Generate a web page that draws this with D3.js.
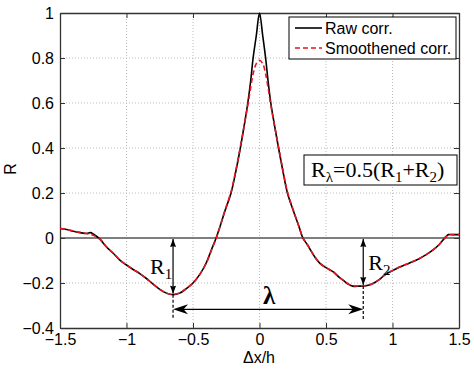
<!DOCTYPE html>
<html><head><meta charset="utf-8">
<script src="https://cdn.jsdelivr.net/npm/d3@7"></script>
<style>body{margin:0;background:#fff}svg{display:block}</style>
</head><body><svg id="c" width="474" height="369"></svg>
<script>
// ---- data ----
const xs      = [-1.5,-1.45,-1.4,-1.35,-1.3,-1.27,-1.25,-1.2,-1.15,-1.1,-1.05,-1.0,-0.95,-0.9,-0.85,-0.8,-0.75,-0.7,-0.65,-0.6,-0.55,-0.5,-0.45,-0.4,-0.36,-0.326,-0.3,-0.26,-0.214,-0.18,-0.144,-0.115,-0.088,-0.066,-0.048,-0.024,0,0.024,0.046,0.064,0.085,0.113,0.143,0.175,0.21,0.255,0.3,0.326,0.36,0.38,0.42,0.455,0.5,0.555,0.6,0.63,0.67,0.7,0.75,0.8,0.85,0.9,0.95,1.0,1.05,1.1,1.15,1.2,1.25,1.3,1.35,1.4,1.42,1.45,1.5];
const rawCorr = [0.042,0.038,0.03,0.024,0.02,0.024,0.018,-0.005,-0.04,-0.068,-0.098,-0.12,-0.14,-0.158,-0.18,-0.205,-0.228,-0.245,-0.252,-0.245,-0.225,-0.2,-0.163,-0.11,-0.05,0.0,0.045,0.12,0.2,0.29,0.4,0.5,0.6,0.7,0.8,0.9,1.0,0.9,0.8,0.7,0.6,0.5,0.4,0.3,0.2,0.12,0.045,0.0,-0.03,-0.05,-0.088,-0.113,-0.132,-0.151,-0.175,-0.188,-0.206,-0.214,-0.214,-0.212,-0.203,-0.185,-0.16,-0.145,-0.13,-0.118,-0.106,-0.092,-0.075,-0.055,-0.03,0.005,0.015,0.015,0.015];
const smoothCorr = [0.042,0.038,0.031,0.025,0.02,0.016,0.012,-0.005,-0.04,-0.068,-0.097,-0.12,-0.14,-0.158,-0.18,-0.205,-0.228,-0.245,-0.25,-0.244,-0.225,-0.2,-0.163,-0.112,-0.052,-0.002,0.045,0.122,0.205,0.295,0.405,0.5,0.59,0.67,0.73,0.775,0.79,0.775,0.73,0.67,0.59,0.5,0.405,0.305,0.205,0.122,0.045,0.0,-0.03,-0.05,-0.088,-0.113,-0.132,-0.151,-0.175,-0.188,-0.205,-0.212,-0.213,-0.211,-0.203,-0.185,-0.161,-0.145,-0.13,-0.118,-0.106,-0.092,-0.075,-0.055,-0.03,0.005,0.013,0.015,0.015];
const xTicks = [-1.5,-1,-0.5,0,0.5,1,1.5];
const xTickLabels = ["\u22121.5","\u22121","\u22120.5","0","0.5","1","1.5"];
const yTicks = [-0.4,-0.2,0,0.2,0.4,0.6,0.8,1];
const yTickLabels = ["\u22120.4","\u22120.2","0","0.2","0.4","0.6","0.8","1"];
const seriesNames = ["Raw corr.","Smoothened corr."];
const minima = [{x:-0.65,y:-0.252,label:"1"},{x:0.78,y:-0.213,label:"2"}];
const lambdaY = -0.317;
const dashEndY = -0.36;

// ---- layout ----
const svg = d3.select("#c");
const L=60,R=459,T=13,B=328;
const x = d3.scaleLinear().domain([-1.5,1.5]).range([L,R]);
const y = d3.scaleLinear().domain([-0.4,1]).range([B,T]);
const axisCol="#333";

// grid
const g = svg.append("g");
g.selectAll(".gx").data(xTicks.slice(1,-1)).join("line")
  .attr("x1",d=>x(d)).attr("x2",d=>x(d)).attr("y1",T).attr("y2",B)
  .attr("stroke","#bbb").attr("stroke-width",1).attr("stroke-dasharray","1,2");
g.selectAll(".gy").data(yTicks.slice(1,-1).filter(d=>d!==0)).join("line")
  .attr("y1",d=>y(d)).attr("y2",d=>y(d)).attr("x1",L).attr("x2",R)
  .attr("stroke","#bbb").attr("stroke-width",1).attr("stroke-dasharray","1,2");

// zero line
svg.append("line").attr("x1",L).attr("x2",R).attr("y1",y(0)).attr("y2",y(0))
  .attr("stroke","#555").attr("stroke-width",1.5);

// axes
const fs="'Liberation Sans',Arial,sans-serif";
const ax = d3.axisBottom(x).tickValues(xTicks).tickFormat((d,i)=>xTickLabels[i]).tickSizeInner(-5).tickSizeOuter(0).tickPadding(6);
const ay = d3.axisLeft(y).tickValues(yTicks).tickFormat((d,i)=>yTickLabels[i]).tickSizeInner(-5).tickSizeOuter(0).tickPadding(9);
const gx = svg.append("g").attr("transform",`translate(0,${B})`).call(ax);
const gy = svg.append("g").attr("transform",`translate(${L},0)`).call(ay);
const gxt = svg.append("g").attr("transform",`translate(0,${T})`).call(d3.axisTop(x).tickValues(xTicks).tickFormat("").tickSizeInner(-5).tickSizeOuter(0));
const gyr = svg.append("g").attr("transform",`translate(${R},0)`).call(d3.axisRight(y).tickValues(yTicks).tickFormat("").tickSizeInner(-5).tickSizeOuter(0));
[gx,gy,gxt,gyr].forEach(a=>{
  a.select(".domain").attr("stroke",axisCol).attr("stroke-width",1.3);
  a.selectAll(".tick line").attr("stroke",axisCol);
  a.selectAll(".tick text").attr("font-family",fs).attr("font-size",16).attr("fill","#000");
});
gy.selectAll(".tick text").attr("dx",3);

// curves
const line = d3.line().x((d,i)=>x(xs[i])).y(d=>y(d)).curve(d3.curveCatmullRom);
svg.append("path").attr("d",line(rawCorr)).attr("fill","none").attr("stroke","#000").attr("stroke-width",1.6);
svg.append("path").attr("d",line(smoothCorr)).attr("fill","none").attr("stroke","#e8141e").attr("stroke-width",1.6).attr("stroke-dasharray","5,3");

// axis labels
svg.append("text").attr("x",259).attr("y",363).attr("text-anchor","middle")
  .attr("font-family",fs).attr("font-size",16).text("\u0394x/h");
svg.append("text").attr("transform","translate(16,169) rotate(-90)").attr("text-anchor","middle")
  .attr("font-family",fs).attr("font-size",16).text("R");

// annotations
const serif="'Liberation Serif','Times New Roman',serif";
function head(px,py,dx,dy,len,hw,notch){
  const nx=-dy, ny=dx;
  const bx=px-dx*len, by=py-dy*len;
  const mx=px-dx*len*(1-notch), my=py-dy*len*(1-notch);
  return `M${px},${py}L${bx+nx*hw},${by+ny*hw}L${mx},${my}L${bx-nx*hw},${by-ny*hw}Z`;
}
minima.forEach((m,i)=>{
  const X=x(m.x), y0=y(0), y1=y(m.y);
  svg.append("line").attr("x1",X).attr("x2",X).attr("y1",y0+1).attr("y2",y1-1).attr("stroke","#000").attr("stroke-width",1.2);
  svg.append("path").attr("d",head(X,y0+1,0,-1,8,3,0.1)+head(X,y1-1,0,1,8,3,0.1)).attr("fill","#000");
  svg.append("line").attr("x1",X).attr("x2",X).attr("y1",y1).attr("y2",y(dashEndY))
    .attr("stroke","#000").attr("stroke-width",1.2).attr("stroke-dasharray","3,2");
  const t = svg.append("text").attr("font-family",serif).attr("font-size",22)
    .attr("x", i===0 ? X-23 : X+5).attr("y",(y0+y1)/2+8);
  t.append("tspan").text("R");
  t.append("tspan").attr("font-size",15).attr("dy",5).text(m.label);
});
// lambda arrow
{
  const X1=x(minima[0].x), X2=x(minima[1].x), Y=y(lambdaY);
  svg.append("line").attr("x1",X1+4).attr("x2",X2-4).attr("y1",Y).attr("y2",Y).attr("stroke","#000").attr("stroke-width",1.3);
  svg.append("path").attr("d",head(X1,Y,-1,0,15,5,0.3)+head(X2,Y,1,0,15,5,0.3)).attr("fill","#000");
  svg.append("text").attr("x",(X1+X2)/2+1).attr("y",Y-5).attr("text-anchor","middle")
    .attr("font-family",serif).attr("font-size",25).attr("font-weight","bold").text("\u03bb");
}
// formula box
{
  svg.append("rect").attr("x",304).attr("y",155).attr("width",153).attr("height",30)
    .attr("fill","#fff").attr("stroke","#000").attr("stroke-width",1);
  const t = svg.append("text").attr("x",311).attr("y",177).attr("font-family",serif).attr("font-size",22);
  t.append("tspan").text("R");
  t.append("tspan").attr("font-size",15).attr("dy",5).text("\u03bb");
  t.append("tspan").attr("dy",-5).text("=0.5(R");
  t.append("tspan").attr("font-size",15).attr("dy",5).text("1");
  t.append("tspan").attr("dy",-5).text("+R");
  t.append("tspan").attr("font-size",15).attr("dy",5).text("2");
  t.append("tspan").attr("dy",-5).text(")");
}
// legend
{
  svg.append("rect").attr("x",289).attr("y",17).attr("width",167).attr("height",42)
    .attr("fill","#fff").attr("stroke","#000").attr("stroke-width",1);
  const cols=["#000","#e8141e"], dash=[null,"5,3"], ly=[28,48];
  seriesNames.forEach((n,i)=>{
    svg.append("line").attr("x1",295).attr("x2",322).attr("y1",ly[i]).attr("y2",ly[i])
      .attr("stroke",cols[i]).attr("stroke-width",1.6).attr("stroke-dasharray",dash[i]);
    svg.append("text").attr("x",325).attr("y",ly[i]+6).attr("font-family",fs).attr("font-size",16).text(n);
  });
}
</script></body></html>
